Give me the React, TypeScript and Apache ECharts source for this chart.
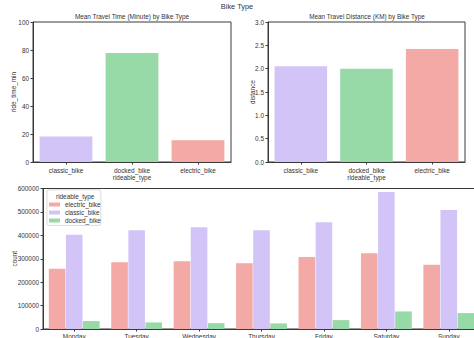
import React, { useEffect, useRef } from "react";
import * as echarts from "echarts";

const bikeTypes = ["classic_bike", "docked_bike", "electric_bike"];
const meanTime = [18.2, 77.8, 15.6];
const meanDistance = [2.05, 2.0, 2.42];
const days = ["Monday", "Tuesday", "Wednesday", "Thursday", "Friday", "Saturday", "Sunday"];
const electricCounts = [257000, 285000, 289000, 281000, 308000, 324000, 274000];
const classicCounts = [403000, 422000, 435000, 422000, 456000, 585000, 508000];
const dockedCounts = [34000, 28000, 25000, 24000, 38000, 75000, 68000];
const hueNames = ["electric_bike", "classic_bike", "docked_bike"];

const COLORS: Record<string, string> = {
  classic_bike: "#D3C4F7",
  docked_bike: "#98DAA7",
  electric_bike: "#F3A9A5",
};

const AX = "#3a3a3a";
const TXT = "#333333";
const FONT = "Liberation Sans, Arial, sans-serif";
const FS = 6.4;

function axisCommon() {
  return {
    axisLine: { show: true, lineStyle: { color: AX, width: 1 } },
    axisTick: { show: true, length: 2.5, lineStyle: { color: AX, width: 1 } },
    axisLabel: { color: TXT, fontSize: FS, fontFamily: FONT, margin: 4, formatter: (v: any) => String(v) },
    splitLine: { show: false },
    nameMoveOverlap: false,
    nameTextStyle: { color: TXT, fontSize: FS, fontFamily: FONT },
  };
}

export default function App() {
  const ref = useRef<HTMLDivElement>(null);
  useEffect(() => {
    if (!ref.current) return;
    const chart = echarts.init(ref.current, undefined, { renderer: "svg" });
    const catAxis = (gridIndex: number, data: string[], name: string, margin: number) => ({
      ...axisCommon(),
      type: "category",
      gridIndex,
      data,
      name,
      nameLocation: "middle",
      nameGap: 12,
      axisLabel: { color: TXT, fontSize: FS, fontFamily: FONT, margin },
      axisTick: { show: true, length: 2.5, alignWithLabel: true, lineStyle: { color: AX } },
    });
    const gridBase = { show: true, borderColor: AX, borderWidth: 1, backgroundColor: "transparent", containLabel: false, outerBoundsMode: "none" };
    const titleStyle = { fontSize: FS, fontWeight: "normal", color: TXT, fontFamily: FONT };
    const option: any = {
      animation: false,
      backgroundColor: "#ffffff",
      textStyle: { fontFamily: FONT },
      title: [
        { text: "Bike Type", left: 237, top: 3, textAlign: "center", padding: 0, textStyle: { ...titleStyle, fontSize: 7.4 } },
        { text: "Mean Travel Time (Minute) by Bike Type", left: 132, top: 13.5, textAlign: "center", padding: 0, textStyle: titleStyle },
        { text: "Mean Travel Distance (KM) by Bike Type", left: 367, top: 13.5, textAlign: "center", padding: 0, textStyle: titleStyle },
      ],
      grid: [
        { ...gridBase, left: 33, top: 22, width: 198, height: 140 },
        { ...gridBase, left: 268, top: 22, width: 197, height: 140 },
        { ...gridBase, left: 43, top: 188.5, width: 437, height: 140.5 },
      ],
      xAxis: [
        catAxis(0, bikeTypes, "rideable_type", 5),
        catAxis(1, bikeTypes, "rideable_type", 5),
        catAxis(2, days, "", 4),
      ],
      yAxis: [
        { ...axisCommon(), type: "value", gridIndex: 0, min: 0, max: 100, interval: 20, name: "ride_time_min", nameLocation: "middle", nameGap: 17 },
        { ...axisCommon(), type: "value", gridIndex: 1, min: 0, max: 3, interval: 0.5, name: "distance", nameLocation: "middle", nameGap: 13,
          axisLabel: { color: TXT, fontSize: FS, fontFamily: FONT, margin: 4, formatter: (v: number) => v.toFixed(1) } },
        { ...axisCommon(), type: "value", gridIndex: 2, min: 0, max: 600000, interval: 100000, name: "count", nameLocation: "middle", nameGap: 26 },
      ],
      legend: {
        left: 49,
        top: 200.5,
        orient: "vertical",
        itemWidth: 11,
        itemHeight: 4,
        itemGap: 0,
        icon: "rect",
        padding: 0,
        data: hueNames,
        textStyle: { color: TXT, fontSize: FS, fontFamily: FONT, lineHeight: 8, padding: [0, 0, 0, 0] },
      },
      graphic: [
        { type: "rect", left: 46.5, top: 189.5, z: 3, shape: { width: 54, height: 35.5, r: 2 }, style: { fill: "rgba(255,255,255,0.85)", stroke: "#d0d0d0", lineWidth: 0.8 } },
        { type: "text", left: 56, top: 193, z: 4, style: { text: "rideable_type", fill: TXT, fontSize: FS, fontFamily: FONT } },
      ],
      series: [
        {
          type: "bar", xAxisIndex: 0, yAxisIndex: 0, barWidth: "80%",
          data: meanTime.map((v, i) => ({ value: v, itemStyle: { color: COLORS[bikeTypes[i]] } })),
        },
        {
          type: "bar", xAxisIndex: 1, yAxisIndex: 1, barWidth: "80%",
          data: meanDistance.map((v, i) => ({ value: v, itemStyle: { color: COLORS[bikeTypes[i]] } })),
        },
        { name: "electric_bike", type: "bar", xAxisIndex: 2, yAxisIndex: 2, data: electricCounts, itemStyle: { color: COLORS.electric_bike }, barWidth: "26.6%", barGap: "3%" },
        { name: "classic_bike", type: "bar", xAxisIndex: 2, yAxisIndex: 2, data: classicCounts, itemStyle: { color: COLORS.classic_bike }, barWidth: "26.6%", barGap: "3%" },
        { name: "docked_bike", type: "bar", xAxisIndex: 2, yAxisIndex: 2, data: dockedCounts, itemStyle: { color: COLORS.docked_bike }, barWidth: "26.6%", barGap: "3%" },
      ],
    };
    chart.setOption(option);
    return () => chart.dispose();
  }, []);
  return (
    <div style={{ position: "fixed", left: 0, top: 0, width: 474, height: 338, overflow: "hidden", background: "#fff" }}>
      <div ref={ref} style={{ width: 482, height: 346 }} />
    </div>
  );
}
